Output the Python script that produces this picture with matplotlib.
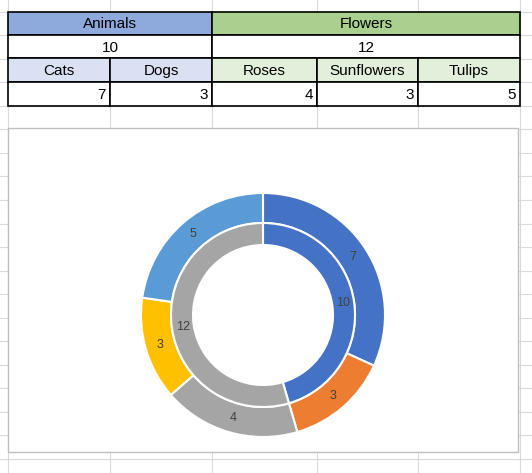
import matplotlib
matplotlib.use("Agg")
import matplotlib.pyplot as plt
from matplotlib.patches import Rectangle

plt.rcParams['font.family'] = ['Liberation Sans', 'DejaVu Sans']

# data
groups = ['Animals', 'Flowers']
group_totals = [10, 12]
items = ['Cats', 'Dogs', 'Roses', 'Sunflowers', 'Tulips']
item_values = [7, 3, 4, 3, 5]
group_colors = ['#4472C4', '#A5A5A5']
item_colors = ['#4472C4', '#ED7D31', '#A5A5A5', '#FFC000', '#5B9BD5']

W, H = 532, 473
fig = plt.figure(figsize=(W / 100, H / 100), dpi=100)
ax = fig.add_axes([0, 0, 1, 1])
ax.set_xlim(0, W)
ax.set_ylim(H, 0)
ax.axis('off')

# spreadsheet grid (behind everything)
cols = [8, 110, 212, 317, 418, 520]
rows = [12, 35, 58, 82, 106]
for x in cols:
    ax.plot([x, x], [0, H], color='#d9d9d9', lw=0.8, zorder=0)
y = rows[0]
while y < H:
    ax.plot([0, W], [y, y], color='#d9d9d9', lw=0.8, zorder=0)
    y += 23.5
ax.plot([0, W], [129.5, 129.5], color='#d9d9d9', lw=0.8, zorder=0)

# table
def cell(x0, x1, r, text, fc='white', ha='center'):
    y0, y1 = rows[r], rows[r + 1]
    ax.add_patch(Rectangle((x0, y0), x1 - x0, y1 - y0, fc=fc, ec='black', lw=1.2, zorder=2))
    tx = (x0 + x1) / 2 if ha == 'center' else x1 - 4
    ax.text(tx, (y0 + y1) / 2 + 1, text, ha=ha, va='center', fontsize=11, zorder=3)

cell(cols[0], cols[2], 0, groups[0], fc='#8EA9DB')
cell(cols[2], cols[5], 0, groups[1], fc='#A9D08E')
cell(cols[0], cols[2], 1, str(group_totals[0]))
cell(cols[2], cols[5], 1, str(group_totals[1]))
fills = ['#D9E1F2', '#D9E1F2', '#E2EFDA', '#E2EFDA', '#E2EFDA']
for i, name in enumerate(items):
    cell(cols[i], cols[i + 1], 2, name, fc=fills[i])
    cell(cols[i], cols[i + 1], 3, str(item_values[i]), ha='right')

# chart area
ax.add_patch(Rectangle((8, 128), 510, 324, fc='white', ec='#bfbfbf', lw=1, zorder=3))

# donut
cx, cy, R = 263, 315, 122
pax = fig.add_axes([(cx - R) / W, (H - cy - R) / H, 2 * R / W, 2 * R / H])
pax.set_zorder(5)
outer_w = 30 / R
inner_r = 92 / R
inner_w = 22 / R
pax.pie(item_values, radius=1, colors=item_colors, startangle=90, counterclock=False,
        labels=[str(v) for v in item_values], labeldistance=1 - outer_w / 2,
        textprops=dict(fontsize=9, color='#404040', ha='center', va='center'),
        wedgeprops=dict(width=outer_w, edgecolor='white', linewidth=1.5))
pax.pie(group_totals, radius=inner_r, colors=group_colors, startangle=90, counterclock=False,
        labels=[str(v) for v in group_totals], labeldistance=1 - inner_w / 2 / inner_r,
        textprops=dict(fontsize=9, color='#404040', ha='center', va='center'),
        wedgeprops=dict(width=inner_w, edgecolor='white', linewidth=1.5))
pax.set_xlim(-1, 1)
pax.set_ylim(-1, 1)
pax.set_aspect('equal')

fig.savefig('out.png', dpi=100)
